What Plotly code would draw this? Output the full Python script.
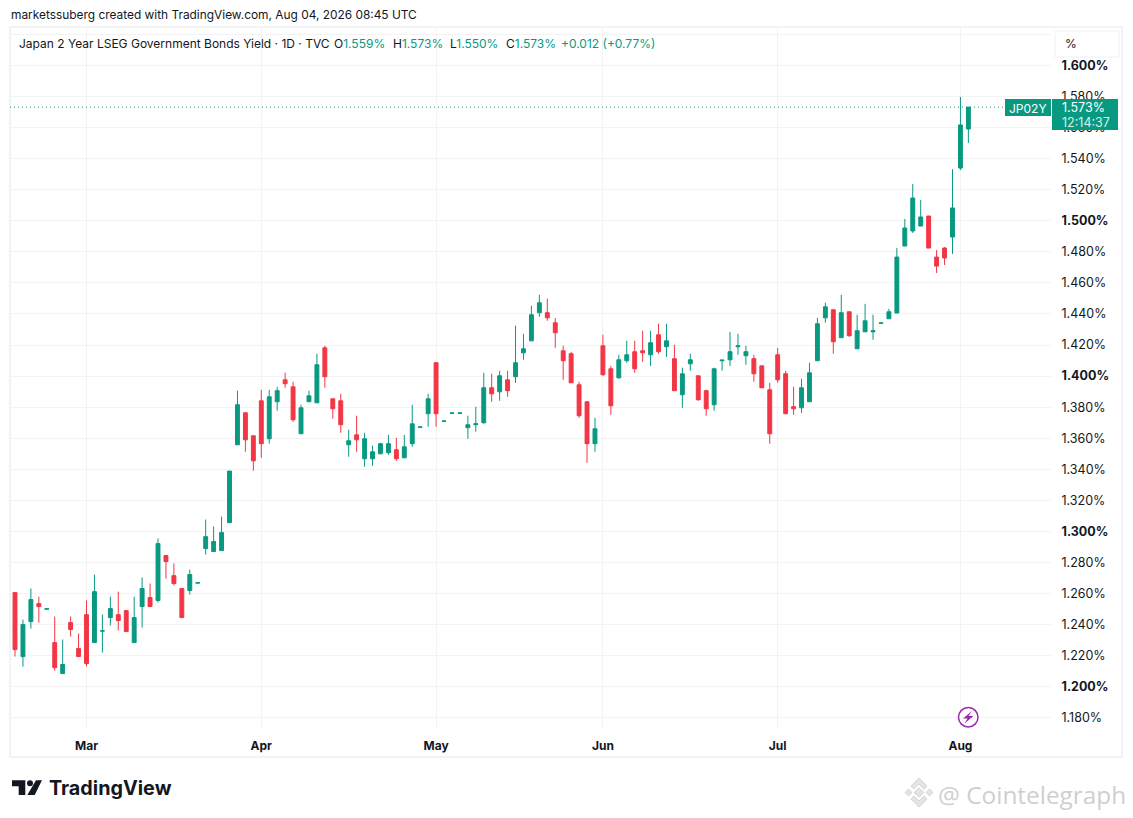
import plotly.graph_objects as go

# the page keeps its 8px body margin, so the figure is laid out in page pixels minus that
W, H = 1125, 802
PAGE_MARGIN = 8

# daily yield candles
opens = [1.2607, 1.2195, 1.2420, 1.2536, 1.2500, 1.2285, 1.2086, 1.2414, 1.2247, 1.2465,
         1.2285, 1.2359, 1.2446, 1.2465, 1.2491, 1.2285, 1.2517, 1.2575, 1.2556, 1.2845,
         1.2716, 1.2633, 1.2620, 1.2668, 1.2890, 1.2871, 1.2877, 1.3057, 1.3558, 1.3764,
         1.3616, 1.3841, 1.3597, 1.3835, 1.3976, 1.3931, 1.3629, 1.3835, 1.3828, 1.4182,
         1.3854, 1.3841, 1.3558, 1.3622, 1.3468, 1.3468, 1.3500, 1.3507, 1.3526, 1.3474,
         1.3565, 1.3671, 1.3758, 1.4086, 1.3709, 1.3761, 1.3761, 1.3668, 1.3687, 1.3700,
         1.3925, 1.3899, 1.3976, 1.3996, 1.4150, 1.4227, 1.4408, 1.4408, 1.4343, 1.4163,
         1.4144, 1.3944, 1.3835, 1.3565, 1.4195, 1.4047, 1.3989, 1.4099, 1.4157, 1.4163,
         1.4137, 1.4266, 1.4189, 1.4112, 1.3880, 1.4079, 1.4002, 1.3906, 1.3816, 1.4099,
         1.4105, 1.4189, 1.4131, 1.4112, 1.4066, 1.3912, 1.4137, 1.4015, 1.3803, 1.3796,
         1.3835, 1.4099, 1.4375, 1.4427, 1.4247, 1.4414, 1.4176, 1.4285, 1.4285, 1.4340,
         1.4369, 1.4406, 1.4837, 1.4934, 1.4966, 1.5030, 1.4766, 1.4824, 1.4895, 1.5339,
         1.5590]
highs = [1.2607, 1.2433, 1.2633, 1.2581, 1.2503, 1.2453, 1.2305, 1.2453, 1.2343, 1.2556,
         1.2723, 1.2465, 1.2581, 1.2613, 1.2491, 1.2581, 1.2704, 1.2665, 1.2955, 1.2845,
         1.2794, 1.2633, 1.2755, 1.2670, 1.3077, 1.3032, 1.3096, 1.3389, 1.3906, 1.3764,
         1.3616, 1.3912, 1.3912, 1.3931, 1.4021, 1.3964, 1.3816, 1.3906, 1.4144, 1.4195,
         1.3854, 1.3886, 1.3655, 1.3745, 1.3635, 1.3552, 1.3571, 1.3622, 1.3603, 1.3622,
         1.3816, 1.3673, 1.3886, 1.4092, 1.3711, 1.3763, 1.3763, 1.3745, 1.3803, 1.4021,
         1.4015, 1.4034, 1.4034, 1.4324, 1.4272, 1.4453, 1.4523, 1.4498, 1.4375, 1.4195,
         1.4157, 1.3964, 1.3835, 1.3732, 1.4266, 1.4066, 1.4137, 1.4227, 1.4227, 1.4292,
         1.4292, 1.4337, 1.4337, 1.4202, 1.4054, 1.4144, 1.4002, 1.3912, 1.4054, 1.4103,
         1.4285, 1.4272, 1.4195, 1.4137, 1.4066, 1.3957, 1.4182, 1.4034, 1.3931, 1.3983,
         1.4086, 1.4375, 1.4472, 1.4427, 1.4523, 1.4414, 1.4395, 1.4465, 1.4395, 1.4342,
         1.4433, 1.4824, 1.5011, 1.5236, 1.5133, 1.5030, 1.4811, 1.4831, 1.5332, 1.5796,
         1.5731]
lows = [1.2195, 1.2131, 1.2375, 1.2414, 1.2500, 1.2105, 1.2086, 1.2324, 1.2195, 1.2131,
        1.2285, 1.2221, 1.2395, 1.2363, 1.2356, 1.2285, 1.2382, 1.2517, 1.2543, 1.2697,
        1.2652, 1.2446, 1.2594, 1.2668, 1.2852, 1.2871, 1.2877, 1.3057, 1.3558, 1.3513,
        1.3391, 1.3474, 1.3565, 1.3777, 1.3925, 1.3706, 1.3629, 1.3835, 1.3828, 1.3925,
        1.3725, 1.3635, 1.3481, 1.3513, 1.3417, 1.3423, 1.3500, 1.3494, 1.3455, 1.3474,
        1.3545, 1.3671, 1.3674, 1.3674, 1.3709, 1.3761, 1.3761, 1.3597, 1.3642, 1.3693,
        1.3835, 1.3841, 1.3867, 1.3957, 1.4105, 1.4227, 1.4382, 1.4356, 1.4182, 1.3976,
        1.3957, 1.3732, 1.3442, 1.3513, 1.4002, 1.3751, 1.3983, 1.4086, 1.4021, 1.4092,
        1.4066, 1.4144, 1.4124, 1.3906, 1.3796, 1.4034, 1.3841, 1.3745, 1.3777, 1.4034,
        1.4066, 1.4137, 1.4073, 1.3964, 1.3925, 1.3565, 1.3957, 1.3758, 1.3751, 1.3764,
        1.3835, 1.4099, 1.4343, 1.4144, 1.4247, 1.4253, 1.4176, 1.4285, 1.4234, 1.4340,
        1.4369, 1.4406, 1.4837, 1.4921, 1.4966, 1.4824, 1.4663, 1.4715, 1.4786, 1.5326,
        1.5500]
closes = [1.2240, 1.2401, 1.2562, 1.2517, 1.2503, 1.2124, 1.2144, 1.2369, 1.2195, 1.2150,
          1.2613, 1.2361, 1.2504, 1.2427, 1.2356, 1.2446, 1.2633, 1.2517, 1.2922, 1.2807,
          1.2665, 1.2446, 1.2723, 1.2670, 1.2967, 1.2935, 1.2993, 1.3389, 1.3816, 1.3590,
          1.3455, 1.3565, 1.3867, 1.3906, 1.3951, 1.3719, 1.3796, 1.3873, 1.4073, 1.3996,
          1.3790, 1.3687, 1.3584, 1.3590, 1.3597, 1.3513, 1.3565, 1.3565, 1.3468, 1.3545,
          1.3693, 1.3673, 1.3854, 1.3758, 1.3711, 1.3763, 1.3763, 1.3687, 1.3693, 1.3925,
          1.3886, 1.4002, 1.3906, 1.4086, 1.4176, 1.4395, 1.4472, 1.4375, 1.4279, 1.4099,
          1.3957, 1.3745, 1.3565, 1.3661, 1.4009, 1.3809, 1.4105, 1.4137, 1.4047, 1.4150,
          1.4215, 1.4157, 1.4227, 1.3906, 1.4015, 1.4105, 1.3848, 1.3790, 1.4047, 1.4103,
          1.4157, 1.4195, 1.4157, 1.4015, 1.3925, 1.3629, 1.3976, 1.3758, 1.3790, 1.3925,
          1.4021, 1.4337, 1.4446, 1.4221, 1.4408, 1.4260, 1.4292, 1.4356, 1.4292, 1.4342,
          1.4414, 1.4766, 1.4953, 1.5146, 1.5024, 1.4824, 1.4708, 1.4760, 1.5082, 1.5616,
          1.5731]

month_pos = [9, 31, 53, 74, 96, 119]
month_labels = ['Mar', 'Apr', 'May', 'Jun', 'Jul', 'Aug']
yield_ticks = [1.18, 1.20, 1.22, 1.24, 1.26, 1.28, 1.30, 1.32, 1.34, 1.36, 1.38, 1.40,
               1.42, 1.44, 1.46, 1.48, 1.50, 1.52, 1.54, 1.56, 1.58, 1.60, 1.62]
yield_labels = ['1.180%', '<b>1.200%</b>', '1.220%', '1.240%', '1.260%', '1.280%',
                '<b>1.300%</b>', '1.320%', '1.340%', '1.360%', '1.380%', '<b>1.400%</b>',
                '1.420%', '1.440%', '1.460%', '1.480%', '<b>1.500%</b>', '1.520%',
                '1.540%', '1.560%', '1.580%', '<b>1.600%</b>', '']

GREEN = '#089981'
RED = '#F23645'
INK = '#131722'
GRID = '#f3f3f4'
FONT = 'Inter'


def px(x):
    return (x - PAGE_MARGIN) / W


def py(y):
    return 1 - (y - PAGE_MARGIN) / H


def label(x, y, text, size=12, color=INK, anchor='left', family=FONT):
    return dict(xref='paper', yref='paper', x=px(x), y=py(y), text=text, showarrow=False,
                xanchor=anchor, yanchor='middle', borderpad=0,
                font=dict(family=family, size=size, color=color))


def poly(points, fill, line='rgba(0,0,0,0)', width=0):
    path = 'M ' + ' L '.join(f'{px(a):.5f},{py(b):.5f}' for a, b in points) + ' Z'
    return dict(type='path', xref='paper', yref='paper', path=path, fillcolor=fill,
                line=dict(color=line, width=width), layer='above')


def box(x0, y0, x1, y1, fill, line='rgba(0,0,0,0)', width=0, layer='above', kind='rect'):
    return dict(type=kind, xref='paper', yref='paper', x0=px(x0), x1=px(x1), y0=py(y0), y1=py(y1),
                fillcolor=fill, line=dict(color=line, width=width), layer=layer)


bars = list(range(len(closes)))
fig = go.Figure(go.Candlestick(
    x=bars, open=opens, high=highs, low=lows, close=closes,
    increasing=dict(line=dict(color=GREEN, width=1), fillcolor=GREEN),
    decreasing=dict(line=dict(color=RED, width=1), fillcolor=RED),
    whiskerwidth=0, hoverinfo='skip',
))

last = closes[-1]
shapes = [
    box(10, 27, 1122, 757, 'rgba(0,0,0,0)', '#eeeff2', 1.5, 'below'),
    dict(type='line', xref='paper', yref='y', x0=px(10), x1=px(1005), y0=last, y1=last,
         line=dict(color=GREEN, width=1, dash='1px,3px'), layer='above'),
    box(1005, 99, 1051, 116, GREEN),
    box(1052, 99, 1118, 130, GREEN),
    box(1055, 31, 1119, 57, 'white', '#eff1f4', 1),
    # lightning marker
    box(958.5, 707.5, 978, 727, 'white', '#9C27B0', 1.5, 'above', 'circle'),
    poly([(972, 711), (963, 718.5), (967.5, 718.5), (964.5, 723.5), (973.5, 716), (968.5, 716)], '#9C27B0'),
    # TradingView logo
    poly([(12, 780.3), (25.3, 780.3), (25.3, 795), (18.7, 795), (18.7, 786.3), (12, 786.3)], '#131722'),
    box(27, 780.3, 33, 786.3, '#131722', kind='circle'),
    poly([(36, 780.3), (42, 780.3), (34.7, 795), (27.3, 795)], '#131722'),
    # watermark logo
    poly([(919, 778), (927, 786), (924, 789), (919, 784), (914, 789), (911, 786)], '#e4e4e4', '#c9c9c9', 0.7),
    poly([(919, 807), (927, 799), (924, 796), (919, 801), (914, 796), (911, 799)], '#e4e4e4', '#c9c9c9', 0.7),
    poly([(919, 788), (924, 792.5), (919, 797), (914, 792.5)], '#e4e4e4', '#c9c9c9', 0.7),
    poly([(908.5, 789), (912, 792.5), (908.5, 796), (905, 792.5)], '#e4e4e4', '#c9c9c9', 0.7),
    poly([(929.5, 789), (933, 792.5), (929.5, 796), (926, 792.5)], '#e4e4e4', '#c9c9c9', 0.7),
]

annotations = [
    label(10, 15, 'marketssuberg created with TradingView.com, Aug 04, 2026 08:45 UTC', 11.9),
    label(18, 43, 'Japan 2 Year LSEG Government Bonds Yield · 1D · TVC'),
    label(333, 43, f'O<span style="color:{GREEN}">{opens[-1]:.3f}%</span>'),
    label(392, 43, f'H<span style="color:{GREEN}">{highs[-1]:.3f}%</span>'),
    label(449, 43, f'L<span style="color:{GREEN}">{lows[-1]:.3f}%</span>'),
    label(505, 43, f'C<span style="color:{GREEN}">{closes[-1]:.3f}%</span>'),
    label(560, 43, '+0.012 (+0.77%)', color=GREEN),
    label(1064, 44, '%', 12),
    label(1028, 108, 'JP02Y', 12, '#ffffff', 'center'),
    label(1061, 107.5, f'{last:.3f}%', 12.5, '#ffffff'),
    label(1061, 122, '12:14:37', 12.5, '#d7efe9'),
    label(47.5, 788, '<b>TradingView</b>', 19.8, '#131722'),
    label(937, 794, '@ Cointelegraph', 24.4, '#cfcfcf', family='Open Sans'),
]

fig.update_layout(
    width=W, height=H,
    margin=dict(l=0, r=0, t=0, b=0),
    paper_bgcolor='white', plot_bgcolor='white',
    showlegend=False,
    shapes=shapes, annotations=annotations,
    xaxis=dict(domain=[px(10), px(1051)], range=[-0.63, 130.4], rangeslider=dict(visible=False),
               tickmode='array', tickvals=month_pos,
               ticktext=[f'<b>{m}</b>' for m in month_labels],
               showgrid=True, gridcolor=GRID, gridwidth=1, zeroline=False, showline=False,
               ticks='outside', ticklen=6, tickcolor='rgba(0,0,0,0)',
               tickfont=dict(family=FONT, size=12, color=INK)),
    yaxis=dict(domain=[py(729), py(27)], range=[1.17291, 1.62465], side='right',
               tickmode='array', tickvals=yield_ticks, ticktext=yield_labels,
               showgrid=True, gridcolor=GRID, gridwidth=1, zeroline=False, showline=False,
               ticks='outside', ticklen=7, tickcolor='rgba(0,0,0,0)',
               tickfont=dict(family=FONT, size=12.5, color=INK)),
)

fig.write_html("out.html")
